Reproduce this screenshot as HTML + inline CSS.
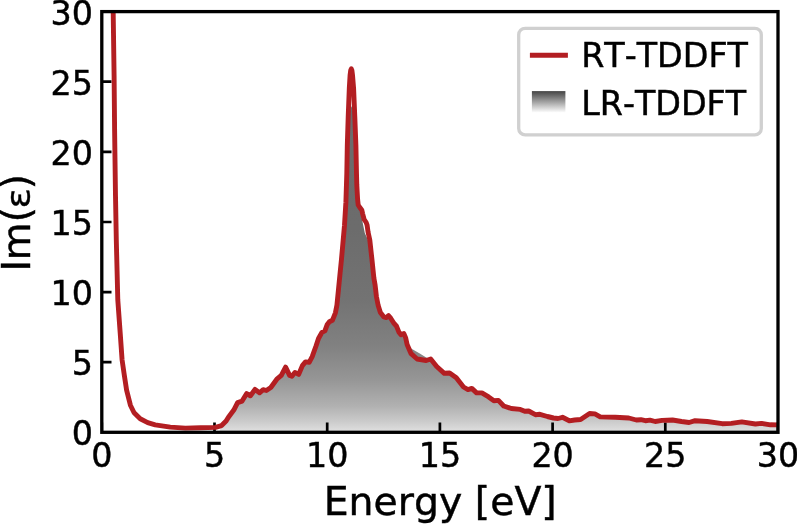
<!DOCTYPE html>
<html lang="en">
<head>
<meta charset="utf-8">
<title>Im(ε) – RT-TDDFT vs LR-TDDFT</title>
<style>
html,body{margin:0;padding:0;background:#fff;}
body{width:797px;height:524px;overflow:hidden;}
svg{display:block;}
svg text{font-family:"DejaVu Sans","Liberation Sans",sans-serif;fill:#000;font-kerning:none;stroke:#000;stroke-width:0.45px;}
</style>
</head>
<body>
<svg width="797" height="524" viewBox="0 0 797 524">
<defs>
<linearGradient id="g" gradientUnits="userSpaceOnUse" x1="0" y1="68" x2="0" y2="432.3">
<stop offset="0.000" stop-color="#6a6a6a"/>
<stop offset="0.442" stop-color="#6c6c6c"/>
<stop offset="0.637" stop-color="#737373"/>
<stop offset="0.763" stop-color="#818181"/>
<stop offset="0.856" stop-color="#969696"/>
<stop offset="0.928" stop-color="#b1b1b1"/>
<stop offset="0.966" stop-color="#c8c8c8"/>
<stop offset="0.988" stop-color="#d8d8d8"/>
<stop offset="1.000" stop-color="#e2e2e2"/>
</linearGradient>
<linearGradient id="lg" x1="0" y1="0" x2="0" y2="1">
<stop offset="0" stop-color="#444444"/>
<stop offset="1" stop-color="#ffffff"/>
</linearGradient>
<clipPath id="c"><rect x="101.8" y="11.6" width="676.2" height="420.7"/></clipPath>
</defs>
<rect width="797" height="524" fill="#fff"/>
<g clip-path="url(#c)">
<path d="M219.0 432.3 L221.6 425.6 L226.1 421.1 L228.6 416.9 L233.8 410.1 L237.6 402.6 L242.1 401.1 L246.7 393.5 L250.4 395.8 L255.0 389.4 L259.5 392.8 L263.2 389.7 L266.3 390.5 L270.8 387.5 L276.8 379.2 L281.3 375.4 L285.6 367.1 L289.6 375.4 L291.9 376.2 L294.9 372.4 L298.7 374.4 L302.4 365.6 L305.5 361.9 L309.2 362.3 L312.2 356.6 L316.0 346.0 L318.5 338.5 L321.9 332.4 L324.9 330.9 L327.1 324.8 L329.4 321.8 L332.4 320.3 L335.4 312.8 L336.9 305.2 L338.4 290.2 L340.0 274.0 L341.4 260.0 L342.5 247.8 L344.5 225.2 L346.2 200.0 L347.3 145.3 L348.2 116.9 L351.4 106.0 L354.8 116.9 L355.9 145.3 L356.4 173.7 L356.6 190.0 L358.5 205.0 L360.5 211.0 L362.9 223.7 L364.8 233.0 L367.5 239.0 L369.8 244.0 L371.9 259.1 L373.9 278.2 L375.1 285.0 L376.4 296.4 L378.2 305.6 L380.4 312.5 L383.9 317.0 L386.2 317.6 L388.5 315.7 L390.7 318.2 L393.6 322.8 L396.5 326.2 L398.8 331.9 L401.0 334.8 L403.9 333.6 L405.6 337.6 L407.3 343.0 L411.1 348.4 L420.2 353.7 L426.2 357.5 L430.7 359.0 L430.7 359.0 L436.7 366.5 L444.3 373.3 L449.6 373.0 L456.3 377.8 L460.0 382.6 L463.5 387.0 L468.0 389.6 L471.8 388.4 L476.6 392.9 L481.9 392.9 L488.6 396.9 L493.9 400.7 L498.4 400.4 L503.7 406.0 L511.3 408.5 L520.3 409.4 L524.8 411.3 L528.6 411.0 L535.4 414.7 L539.9 414.3 L547.4 416.5 L553.5 418.0 L558.0 418.5 L562.5 417.3 L569.3 420.8 L574.6 420.0 L580.6 419.5 L589.6 413.5 L594.9 413.9 L600.2 416.9 L615.2 417.2 L628.8 418.0 L636.3 420.0 L640.9 419.7 L645.4 420.7 L649.9 420.1 L655.2 421.5 L662.0 420.4 L672.5 420.0 L681.6 421.5 L689.1 422.5 L695.1 420.7 L707.2 421.5 L722.2 423.7 L731.3 423.4 L741.8 421.9 L755.4 424.0 L761.4 423.4 L770.5 424.8 L781.0 424.9 L781.0 432.3 Z" fill="url(#g)"/>
<g stroke="#000" stroke-width="2.7"><line x1="101.8" y1="432.3" x2="101.8" y2="422.6"/><line x1="214.5" y1="432.3" x2="214.5" y2="422.6"/><line x1="327.2" y1="432.3" x2="327.2" y2="422.6"/><line x1="439.9" y1="432.3" x2="439.9" y2="422.6"/><line x1="552.6" y1="432.3" x2="552.6" y2="422.6"/><line x1="665.3" y1="432.3" x2="665.3" y2="422.6"/><line x1="778.0" y1="432.3" x2="778.0" y2="422.6"/><line x1="101.8" y1="432.3" x2="111.5" y2="432.3"/><line x1="101.8" y1="362.2" x2="111.5" y2="362.2"/><line x1="101.8" y1="292.1" x2="111.5" y2="292.1"/><line x1="101.8" y1="222.0" x2="111.5" y2="222.0"/><line x1="101.8" y1="151.8" x2="111.5" y2="151.8"/><line x1="101.8" y1="81.7" x2="111.5" y2="81.7"/><line x1="101.8" y1="11.6" x2="111.5" y2="11.6"/></g>
<path d="M112.9 -5.0 L113.2 13.0 L114.1 76.0 L114.6 130.0 L115.5 196.0 L116.3 240.0 L117.8 300.0 L120.2 333.0 L122.1 360.0 L124.3 375.1 L126.6 390.2 L130.4 405.2 L134.1 412.8 L140.2 418.8 L147.7 422.6 L155.2 424.8 L170.3 427.1 L185.4 428.1 L200.5 427.8 L215.5 427.4 L221.6 425.6 L226.1 421.1 L228.6 416.9 L233.8 410.1 L237.6 402.6 L242.1 401.1 L246.7 393.5 L250.4 395.8 L255.0 389.4 L259.5 392.8 L263.2 389.7 L266.3 390.5 L270.8 387.5 L276.8 379.2 L281.3 375.4 L285.6 367.1 L289.6 375.4 L291.9 376.2 L294.9 372.4 L298.7 374.4 L302.4 365.6 L305.5 361.9 L309.2 362.3 L312.2 356.6 L316.0 346.0 L318.5 338.5 L321.9 332.4 L324.9 330.9 L327.1 324.8 L329.4 321.8 L332.4 320.3 L335.4 312.8 L336.9 305.2 L338.4 290.2 L340.0 274.0 L341.4 260.0 L342.5 247.8 L344.5 225.2 L345.9 202.2 L346.8 173.7 L347.3 145.3 L348.2 116.9 L349.3 88.4 L350.1 75.0 L350.7 70.3 L351.3 68.8 L351.9 70.3 L352.5 75.0 L353.6 88.4 L354.8 116.9 L355.9 145.3 L356.5 173.7 L356.8 185.0 L357.6 199.3 L358.2 205.0 L360.1 207.9 L361.8 210.0 L362.6 213.6 L364.1 219.4 L366.2 222.5 L367.1 225.1 L368.1 232.3 L369.8 240.0 L371.9 259.1 L373.9 278.2 L375.1 285.0 L376.4 296.4 L378.2 305.6 L380.4 312.5 L383.9 317.0 L386.2 317.6 L388.5 315.7 L390.7 318.2 L393.6 322.8 L396.5 326.2 L398.8 331.9 L401.0 334.8 L403.9 333.6 L405.6 337.6 L407.1 344.5 L411.1 353.7 L417.1 359.0 L426.2 360.5 L430.7 359.0 L436.7 366.5 L444.3 373.3 L449.6 373.0 L456.3 377.8 L460.0 382.6 L463.5 387.0 L468.0 389.6 L471.8 388.4 L476.6 392.9 L481.9 392.9 L488.6 396.9 L493.9 400.7 L498.4 400.4 L503.7 406.0 L511.3 408.5 L520.3 409.4 L524.8 411.3 L528.6 411.0 L535.4 414.7 L539.9 414.3 L547.4 416.5 L553.5 418.0 L558.0 418.5 L562.5 417.3 L569.3 420.8 L574.6 420.0 L580.6 419.5 L589.6 413.5 L594.9 413.9 L600.2 416.9 L615.2 417.2 L628.8 418.0 L636.3 420.0 L640.9 419.7 L645.4 420.7 L649.9 420.1 L655.2 421.5 L662.0 420.4 L672.5 420.0 L681.6 421.5 L689.1 422.5 L695.1 420.7 L707.2 421.5 L722.2 423.7 L731.3 423.4 L741.8 421.9 L755.4 424.0 L761.4 423.4 L770.5 424.8 L781.0 424.9" fill="none" stroke="#b31e22" stroke-width="4.9" stroke-linejoin="round" stroke-linecap="butt"/>
</g>
<rect x="101.8" y="11.6" width="676.2" height="420.7" fill="none" stroke="#000" stroke-width="3.3"/>
<g font-size="33.33"><text x="101.8" y="467.2" text-anchor="middle">0</text><text x="214.5" y="467.2" text-anchor="middle">5</text><text x="327.2" y="467.2" text-anchor="middle">10</text><text x="439.9" y="467.2" text-anchor="middle">15</text><text x="552.6" y="467.2" text-anchor="middle">20</text><text x="665.3" y="467.2" text-anchor="middle">25</text><text x="778.0" y="467.2" text-anchor="middle">30</text><text x="93" y="445.2" text-anchor="end">0</text><text x="93" y="375.1" text-anchor="end">5</text><text x="93" y="305.0" text-anchor="end">10</text><text x="93" y="234.9" text-anchor="end">15</text><text x="93" y="164.7" text-anchor="end">20</text><text x="93" y="94.6" text-anchor="end">25</text><text x="93" y="24.5" text-anchor="end">30</text></g>
<text x="440.2" y="515.2" font-size="39.4" text-anchor="middle">Energy [eV]</text>
<g font-size="38.9"><text transform="translate(29.8 271.6) rotate(-90)">Im(</text><text transform="translate(29.9 208.5) rotate(-90) scale(0.97 0.855)">ε</text><text transform="translate(29.8 189.2) rotate(-90)">)</text></g>
<rect x="518.7" y="28.3" width="242.6" height="106.6" rx="6.5" ry="6.5" fill="#fff" fill-opacity="0.8" stroke="#d0d0d0" stroke-width="3.3"/>
<line x1="529.9" y1="55.2" x2="567.9" y2="55.2" stroke="#b31e22" stroke-width="4.9"/>
<rect x="531.9" y="91.1" width="33.5" height="21.6" fill="url(#lg)"/>
<g font-size="33.33"><text x="581.2" y="66.8">RT-TDDFT</text><text x="581.2" y="115.3">LR-TDDFT</text></g>
</svg>
</body>
</html>
